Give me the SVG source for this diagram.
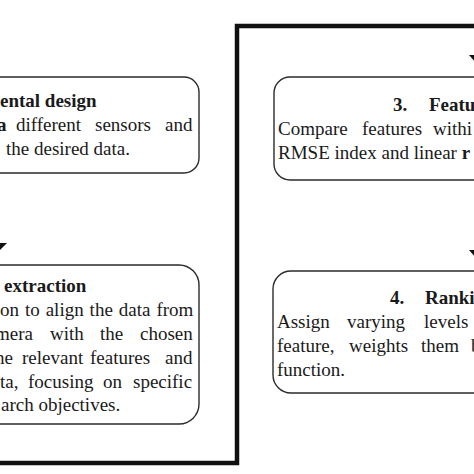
<svg xmlns="http://www.w3.org/2000/svg" width="474" height="474" viewBox="0 0 474 474">
<style>
.box{fill:#fff;stroke:#2b2b2b;stroke-width:1.4}
.t{font-family:"Liberation Serif","Times New Roman",serif;font-size:19px;fill:#1a1a1a}
.b{font-weight:bold}
.frame{fill:none;stroke:#111;stroke-width:4.5;stroke-linejoin:miter}
.head{fill:#111}
</style>
<rect width="474" height="474" fill="#fff"/>
<g id="connectors">
<path class="frame" d="M0,463 H237 V26 H474"/>
<polygon class="head" points="-7,243 7,243 0,250"/>
<polygon class="head" points="469,55 481,55 475,62"/>
<polygon class="head" points="469,250 481,250 475,257"/>
</g>
<g id="node1">
<rect class="box" x="-60" y="77" width="259" height="96" rx="15"/>
<text class="t b" x="0" y="107">ental design</text>
<text class="t" y="131"><tspan class="b" x="-3">a</tspan><tspan x="16">different</tspan><tspan x="95">sensors</tspan><tspan x="165">and</tspan></text>
<text class="t" x="6" y="155">the desired data.</text>
</g>
<g id="node2">
<rect class="box" x="-60" y="265" width="259" height="159" rx="20"/>
<text class="t b" x="4" y="292">extraction</text>
<text class="t" x="0" y="316" word-spacing="1.2">on to align the data from</text>
<text class="t" y="340"><tspan x="-5">mera</tspan><tspan x="50">with</tspan><tspan x="100">the</tspan><tspan x="140">chosen</tspan></text>
<text class="t" y="364"><tspan x="-5">he</tspan><tspan x="22">relevant</tspan><tspan x="90">features</tspan><tspan x="165">and</tspan></text>
<text class="t" y="388"><tspan x="0">ta,</tspan><tspan x="28">focusing</tspan><tspan x="103">on</tspan><tspan x="133">specific</tspan></text>
<text class="t" x="1" y="411">arch objectives.</text>
</g>
<g id="node3">
<rect class="box" x="274" y="77" width="260" height="103" rx="16"/>
<text class="t b" y="111"><tspan x="393">3.</tspan><tspan x="429">Featu</tspan></text>
<text class="t" y="135"><tspan x="278">Compare</tspan><tspan x="362">features</tspan><tspan x="433">withi</tspan></text>
<text class="t" y="159"><tspan x="278">RMSE index and linear </tspan><tspan class="b">r</tspan></text>
</g>
<g id="node4">
<rect class="box" x="273" y="271" width="260" height="122" rx="18"/>
<text class="t b" y="304"><tspan x="390">4.</tspan><tspan x="425">Ranki</tspan></text>
<text class="t" y="328"><tspan x="277">Assign</tspan><tspan x="347">varying</tspan><tspan x="424">levels</tspan></text>
<text class="t" y="352"><tspan x="277">feature,</tspan><tspan x="349">weights</tspan><tspan x="421">them</tspan><tspan x="471">b</tspan></text>
<text class="t" x="277" y="376">function.</text>
</g>
</svg>
